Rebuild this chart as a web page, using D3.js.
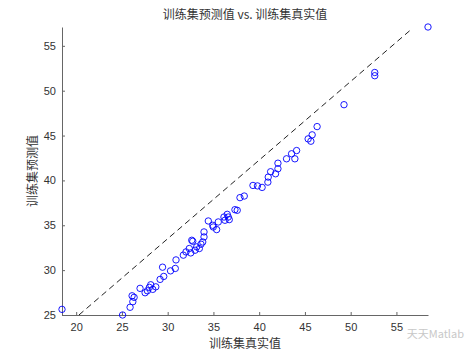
<!DOCTYPE html>
<meta charset="utf-8">
<style>
  body { margin: 0; background: #fff; }
  .axis text { font-family: "Liberation Sans", Arial, sans-serif; font-size: 11px; fill: #333; }
  .axis path, .axis line { stroke: #666; }
</style>
<body>
</body>
<script src="https://d3js.org/d3.v7.min.js"></script>
<script>
// training set: true value vs predicted value
var trueVals = [18.45, 25.07, 25.89, 26.19, 26.33, 26.11, 26.98, 27.53, 27.78, 28.0,
  28.15, 28.37, 28.70, 29.17, 29.44, 29.57, 30.31, 30.83, 30.91, 31.71,
  32.0, 32.36, 32.52, 32.63, 32.74, 32.99, 33.17, 33.46, 33.64, 33.83,
  33.97, 33.97, 34.44, 34.92, 34.98, 35.35, 35.53, 36.15, 36.26, 36.51,
  36.62, 36.73, 37.35, 37.60, 37.90, 38.37, 39.32, 39.81, 40.32, 40.95,
  40.99, 41.25, 41.79, 42.05, 42.05, 42.99, 43.54, 43.90, 44.09, 45.35,
  45.65, 45.79, 46.33, 49.27, 52.63, 52.63, 58.45];
var predVals = [25.63, 25.0, 25.86, 26.48, 26.97, 27.14, 27.97, 27.48, 27.70, 28.08,
  28.37, 27.86, 28.14, 28.97, 30.33, 29.30, 29.92, 30.19, 31.14, 31.67,
  32.03, 32.41, 31.92, 33.33, 33.22, 32.22, 32.59, 32.41, 32.89, 33.14,
  33.70, 34.26, 35.48, 35.0, 34.81, 34.52, 35.37, 35.92, 35.56, 36.22,
  35.92, 35.63, 36.74, 36.67, 38.08, 38.26, 39.44, 39.39, 39.22, 39.81,
  40.37, 40.97, 40.74, 41.30, 41.92, 42.41, 42.97, 42.41, 43.33, 44.63,
  44.37, 45.08, 46.0, 48.44, 52.03, 51.67, 57.1];
// dashed reference line end points [true, predicted]
var refLine = [[20.3, 25.0], [56.65, 56.86]];
var xTicks = [20, 25, 30, 35, 40, 45, 50, 55],
    yTicks = [25, 30, 35, 40, 45, 50, 55];

var W = 474, H = 355,
    margin = {top: 27, right: 46, bottom: 40, left: 62},
    width = W - margin.left - margin.right,
    height = H - margin.top - margin.bottom;

var x = d3.scaleLinear().domain([18.45, 58.45]).range([0, width]),
    y = d3.scaleLinear().domain([25, 57.1]).range([height, 0]);

var svg = d3.select("body").append("svg")
    .attr("width", W)
    .attr("height", H);

svg.append("defs").append("clipPath").attr("id", "clip")
  .append("rect").attr("width", width).attr("height", height);

var g = svg.append("g")
    .attr("transform", "translate(" + margin.left + "," + margin.top + ")");

// axes, ticks pointing inward like matlab
g.append("g")
  .attr("class", "axis")
  .attr("transform", "translate(0," + height + ")")
  .call(d3.axisBottom(x).tickValues(xTicks).tickSizeInner(-3).tickSizeOuter(0).tickPadding(8));

g.append("g")
  .attr("class", "axis")
  .call(d3.axisLeft(y).tickValues(yTicks).tickSizeInner(-3).tickSizeOuter(0).tickPadding(6));

// reference line
g.append("path")
  .attr("clip-path", "url(#clip)")
  .attr("d", d3.line().x(function(d){ return x(d[0]); }).y(function(d){ return y(d[1]); })(refLine))
  .attr("fill", "none")
  .attr("stroke", "#222")
  .attr("stroke-width", 1)
  .attr("stroke-dasharray", "6,4");

// points
g.selectAll("circle.pt")
  .data(trueVals)
  .enter().append("circle")
  .attr("class", "pt")
  .attr("cx", function(d){ return x(d); })
  .attr("cy", function(d, i){ return y(predVals[i]); })
  .attr("r", 3.2)
  .attr("fill", "none")
  .attr("stroke", "#0000ff")
  .attr("stroke-width", 0.9);

// titles
var cjk = "'Noto Sans CJK SC', 'Liberation Sans', sans-serif";
svg.append("text")
  .attr("x", margin.left + width / 2)
  .attr("y", 19)
  .attr("text-anchor", "middle")
  .attr("font-family", cjk)
  .attr("font-size", 12)
  .attr("fill", "#333")
  .text("训练集预测值 vs. 训练集真实值");

svg.append("text")
  .attr("x", margin.left + width / 2)
  .attr("y", 348)
  .attr("text-anchor", "middle")
  .attr("font-family", cjk)
  .attr("font-size", 12)
  .attr("fill", "#333")
  .text("训练集真实值");

svg.append("text")
  .attr("transform", "translate(37," + (margin.top + height / 2) + ") rotate(-90)")
  .attr("text-anchor", "middle")
  .attr("font-family", cjk)
  .attr("font-size", 12)
  .attr("fill", "#333")
  .text("训练集预测值");

// watermark
svg.append("text")
  .attr("x", 464)
  .attr("y", 338)
  .attr("text-anchor", "end")
  .attr("font-family", cjk)
  .attr("font-size", 11)
  .attr("fill", "#bbb")
  .attr("opacity", 0.8)
  .text("天天Matlab");
</script>
